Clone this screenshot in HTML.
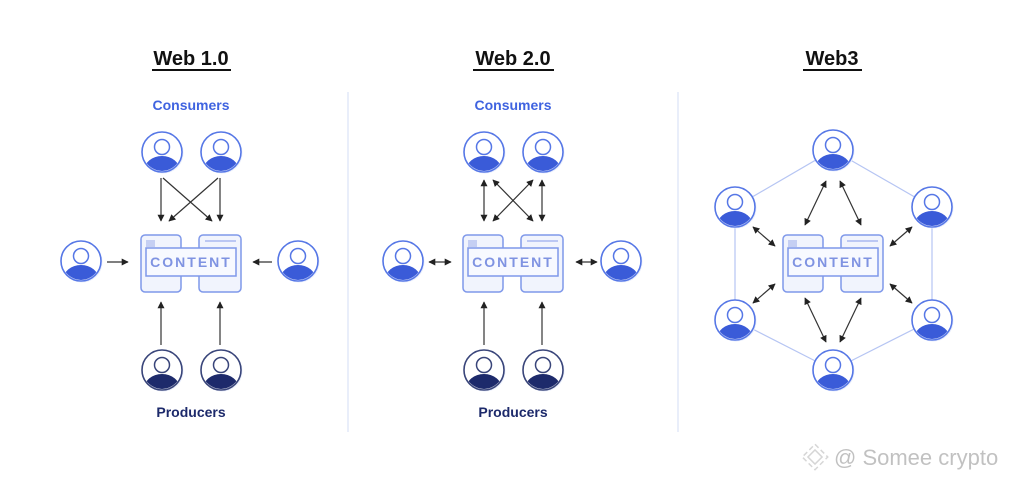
<!DOCTYPE html>
<html><head><meta charset="utf-8"><style>
html,body{margin:0;padding:0;background:#fff;}
svg{display:block;}
text{font-family:"Liberation Sans",sans-serif;}
</style></head><body>
<svg width="1024" height="481" viewBox="0 0 1024 481" xmlns="http://www.w3.org/2000/svg">
<defs>
<marker id="ah" viewBox="0 0 10 10" refX="9" refY="5" markerWidth="7" markerHeight="7" orient="auto-start-reverse" markerUnits="userSpaceOnUse">
<path d="M0,0 L10,5 L0,10 z" fill="#222"/></marker>
<clipPath id="cc"><circle cx="0" cy="0" r="19"/></clipPath>
<g id="pb">
<circle cx="1" cy="1" r="20.5" fill="#e9eefc"/>
<circle cx="0" cy="0" r="20" fill="#fff" stroke="#5677e6" stroke-width="1.6"/>
<g clip-path="url(#cc)"><ellipse cx="0" cy="19" rx="18" ry="15" fill="#3a5bd8"/></g>
<circle cx="0" cy="-5" r="7.5" fill="#fff" stroke="#5677e6" stroke-width="1.5"/>
</g>
<g id="pd">
<circle cx="1" cy="1" r="20.5" fill="#e9eefc"/>
<circle cx="0" cy="0" r="20" fill="#fff" stroke="#39457a" stroke-width="1.6"/>
<g clip-path="url(#cc)"><ellipse cx="0" cy="19" rx="18" ry="15" fill="#1d2a6b"/></g>
<circle cx="0" cy="-5" r="7.5" fill="#fff" stroke="#39457a" stroke-width="1.5"/>
</g>
<g id="ct">
<rect x="0" y="0" width="40" height="57" rx="4" fill="#f1f4fd" stroke="#7f98ea" stroke-width="1.5"/>
<rect x="58" y="0" width="42" height="57" rx="4" fill="#f1f4fd" stroke="#7f98ea" stroke-width="1.5"/>
<rect x="5" y="5" width="9" height="7" fill="#c5cff3"/>
<line x1="64" y1="6" x2="95" y2="6" stroke="#a9b8f0" stroke-width="1.5"/>
<rect x="5" y="13" width="90" height="28" fill="#f7f9ff" stroke="#7f98ea" stroke-width="1.5"/>
<text x="50" y="32" text-anchor="middle" font-size="14" font-weight="bold" fill="#7f93e2" letter-spacing="2">CONTENT</text>
</g>
</defs>

<line x1="348" y1="92" x2="348" y2="432" stroke="#d3dcf5" stroke-width="1"/>
<line x1="678" y1="92" x2="678" y2="432" stroke="#d3dcf5" stroke-width="1"/>

<g font-size="20" font-weight="bold" fill="#111" text-anchor="middle">
<text x="191" y="65">Web 1.0</text>
<text x="513" y="65">Web 2.0</text>
<text x="832" y="65">Web3</text>
</g>
<g stroke="#111" stroke-width="2">
<line x1="152" y1="70" x2="231" y2="70"/>
<line x1="473" y1="70" x2="554" y2="70"/>
<line x1="803" y1="70" x2="862" y2="70"/>
</g>
<g font-size="14" font-weight="bold" text-anchor="middle">
<text x="191" y="110" fill="#3f63e0">Consumers</text>
<text x="513" y="110" fill="#3f63e0">Consumers</text>
<text x="191" y="417" fill="#1d2a6b">Producers</text>
<text x="513" y="417" fill="#1d2a6b">Producers</text>
</g>

<use href="#ct" x="141" y="235"/>
<use href="#pb" x="162" y="152"/><use href="#pb" x="221" y="152"/>
<use href="#pb" x="81" y="261"/><use href="#pb" x="298" y="261"/>
<use href="#pd" x="162" y="370"/><use href="#pd" x="221" y="370"/>
<g stroke="#333" stroke-width="1.2" marker-end="url(#ah)">
<line x1="161" y1="178" x2="161" y2="221"/>
<line x1="220" y1="178" x2="220" y2="221"/>
<line x1="163" y1="178" x2="212" y2="221"/>
<line x1="218" y1="178" x2="169" y2="221"/>
<line x1="107" y1="262" x2="128" y2="262"/>
<line x1="272" y1="262" x2="253" y2="262"/>
<line x1="161" y1="345" x2="161" y2="302"/>
<line x1="220" y1="345" x2="220" y2="302"/>
</g>

<use href="#ct" x="463" y="235"/>
<use href="#pb" x="484" y="152"/><use href="#pb" x="543" y="152"/>
<use href="#pb" x="403" y="261"/><use href="#pb" x="621" y="261"/>
<use href="#pd" x="484" y="370"/><use href="#pd" x="543" y="370"/>
<g stroke="#333" stroke-width="1.2" marker-end="url(#ah)" marker-start="url(#ah)">
<line x1="484" y1="180" x2="484" y2="221"/>
<line x1="542" y1="180" x2="542" y2="221"/>
<line x1="493" y1="180" x2="533" y2="221"/>
<line x1="533" y1="180" x2="493" y2="221"/>
<line x1="429" y1="262" x2="451" y2="262"/>
<line x1="576" y1="262" x2="597" y2="262"/>
</g>
<g stroke="#333" stroke-width="1.2" marker-end="url(#ah)">
<line x1="484" y1="345" x2="484" y2="302"/>
<line x1="542" y1="345" x2="542" y2="302"/>
</g>

<g stroke="#b6c5f3" stroke-width="1.2" fill="none">
<polygon points="833,150 932,207 932,320 833,370 735,320 735,207"/>
</g>
<use href="#ct" x="783" y="235"/>
<use href="#pb" x="833" y="150"/>
<use href="#pb" x="735" y="207"/><use href="#pb" x="932" y="207"/>
<use href="#pb" x="735" y="320"/><use href="#pb" x="932" y="320"/>
<use href="#pb" x="833" y="370"/>
<g stroke="#333" stroke-width="1.2" marker-end="url(#ah)" marker-start="url(#ah)">
<line x1="826" y1="181" x2="805" y2="225"/>
<line x1="840" y1="181" x2="861" y2="225"/>
<line x1="753" y1="227" x2="775" y2="246"/>
<line x1="912" y1="227" x2="890" y2="246"/>
<line x1="753" y1="303" x2="775" y2="284"/>
<line x1="912" y1="303" x2="890" y2="284"/>
<line x1="805" y1="298" x2="826" y2="342"/>
<line x1="861" y1="298" x2="840" y2="342"/>
</g>

<g opacity="0.6">
<g transform="translate(815,457) rotate(45)" fill="none" stroke="#bbb" stroke-width="1.5">
<rect x="-5" y="-5" width="10" height="10"/>
<rect x="-9" y="-9" width="18" height="18" stroke-dasharray="5 3"/>
</g>
<text x="834" y="465" font-size="22" fill="#999">@ Somee crypto</text>
</g>
</svg>
</body></html>
